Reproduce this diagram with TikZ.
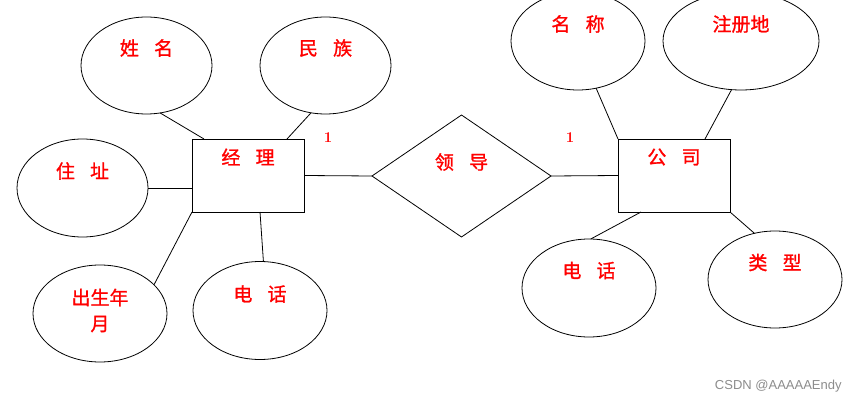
\documentclass[tikz,border=0pt]{standalone}
\usepackage{fontspec}
\usepackage{tikz}
\usetikzlibrary{shapes.geometric}
\newfontfamily\cjk[FakeBold=1.2]{Noto Sans CJK SC}
\newfontfamily\wmfont{Liberation Sans}
\newcommand{\zgap}{\hspace{0.8em}}

\begin{document}
\begin{tikzpicture}[x=1pt, y=-1pt, line width=0.8pt,
  attr/.style={draw, ellipse, inner sep=0pt, outer sep=0pt, minimum width=134pt, minimum height=97pt},
  ent/.style={draw, rectangle, inner sep=0pt, outer sep=0pt, minimum width=112pt, minimum height=73pt},
  rel/.style={draw, diamond, inner sep=0pt, outer sep=0pt, minimum width=179pt, minimum height=122pt},
  txt/.style={text=red, font=\cjk\fontsize{19}{24}\selectfont, inner sep=0pt, align=center},
  card/.style={text=red, font=\bfseries\fontsize{15}{16}\selectfont, inner sep=0pt}]
 \useasboundingbox (0,0) rectangle (858,403);

 \node[ent] (jl) at (248,175.5) {};
 \node[txt] (jlt) at ([yshift=18.5]jl.center) {经\zgap 理};
 \node[ent] (gs) at (674,175.5) {};
 \node[txt] (gst) at ([yshift=18.5]gs.center) {公\zgap 司};
 \node[rel] (ld) at (461.5,176) {};
 \node[txt] (ldt) at ([yshift=14]ld.center) {领\zgap 导};

 \node[attr, minimum width=131pt] (xm) at (146.5,65.5) {};
 \node[txt] (xmt) at ([yshift=17.5]xm.center) {姓\zgap 名};
 \node[attr, minimum width=131pt] (mz) at (325.5,65.5) {};
 \node[txt] (mzt) at ([yshift=17.5]mz.center) {民\zgap 族};
 \node[attr, minimum width=131pt, minimum height=98pt] (zz) at (82.5,188) {};
 \node[txt] (zzt) at ([yshift=17]zz.center) {住\zgap 址};
 \node[attr] (cs) at (100,313.5) {};
 \node[txt, font=\cjk\fontsize{19}{26}\selectfont] (cst) at ([yshift=3]cs.center) {出生年\\月};
 \node[attr, minimum height=98pt] (dh1) at (260,310.5) {};
 \node[txt] (dh1t) at ([yshift=16.5]dh1.center) {电\zgap 话};

 \node[attr, minimum height=98pt] (mc) at (578,41) {};
 \node[txt] (mct) at ([yshift=17]mc.center) {名\zgap 称};
 \node[attr, minimum width=156pt, minimum height=98pt] (zc) at (741,41) {};
 \node[txt] (zct) at ([yshift=17]zc.center) {注册地};
 \node[attr, minimum height=98pt] (dh2) at (589,288) {};
 \node[txt] (dh2t) at ([yshift=17.5]dh2.center) {电\zgap 话};
 \node[attr] (lx) at (775,279.5) {};
 \node[txt] (lxt) at ([yshift=17]lx.center) {类\zgap 型};

 \node[card] (n1) at (328,138) {1};
 \node[card] (n2) at (570,138) {1};

 \draw (xm.-74.7) -- ([xshift=12]jl.north west);
 \draw (mz.-107.7) -- ([xshift=-17]jl.north east);
 \draw (zz.east) -- ([yshift=-12.5]jl.west);
 \draw (cs.28.6) -- (jl.south west);
 \draw (dh1.86.5) -- ([xshift=12]jl.south);

 \draw (jl.east) -- (ld.west);
 \draw (ld.east) -- (gs.west);

 \draw (mc.-69.8) -- (gs.north west);
 \draw (zc.-101.5) -- ([xshift=-25]gs.north east);
 \draw (dh2.88.8) -- ([xshift=23]gs.south west);
 \draw (lx.114.8) -- (gs.south east);

 \node[text=black!45, font=\wmfont\fontsize{13}{15}\selectfont, anchor=east, inner sep=0pt] (wm) at (842,386) {CSDN @AAAAAEndy};
\end{tikzpicture}
\end{document}
